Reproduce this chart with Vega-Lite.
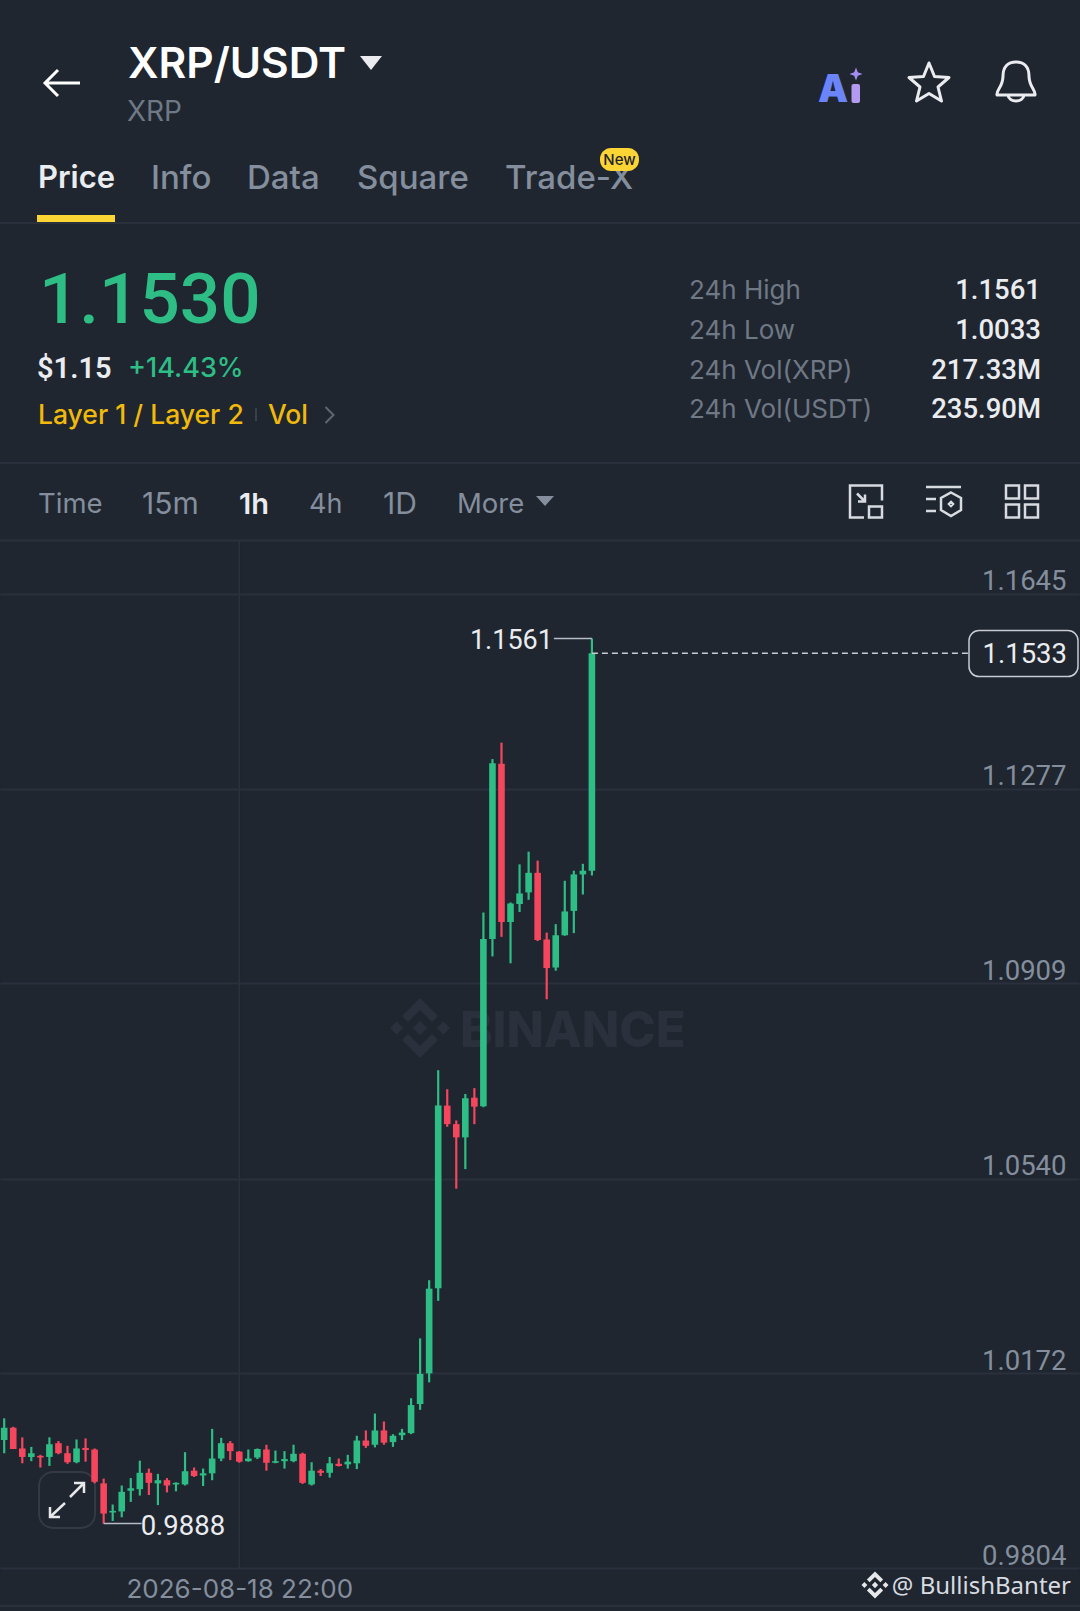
{
  "$schema": "https://vega.github.io/schema/vega-lite/v6.json",
  "width": 1080,
  "height": 1611,
  "padding": 0,
  "autosize": {"type": "fit", "contains": "padding"},
  "background": "#1F2630",
  "config": {"view": {"stroke": null}, "text": {"font": "Inter"}, "axis": {"labelFont": "Inter"}},
  "data": {"values": [{"ui": 1}]},
  "datasets": {
    "candles": [
      {"t":"2026-08-17T20:00:00Z","open":1.0046,"high":1.0087,"low":1.0021,"close":1.0069},
      {"t":"2026-08-17T21:00:00Z","open":1.0069,"high":1.0071,"low":1.0029,"close":1.0029},
      {"t":"2026-08-17T22:00:00Z","open":1.0030,"high":1.0051,"low":1.0002,"close":1.0014},
      {"t":"2026-08-17T23:00:00Z","open":1.0014,"high":1.0033,"low":1.0006,"close":1.0021},
      {"t":"2026-08-18T00:00:00Z","open":1.0016,"high":1.0018,"low":0.9994,"close":1.0013},
      {"t":"2026-08-18T01:00:00Z","open":1.0014,"high":1.0051,"low":0.9997,"close":1.0038},
      {"t":"2026-08-18T02:00:00Z","open":1.0040,"high":1.0044,"low":1.0019,"close":1.0021},
      {"t":"2026-08-18T03:00:00Z","open":1.0021,"high":1.0035,"low":1.0001,"close":1.0004},
      {"t":"2026-08-18T04:00:00Z","open":1.0004,"high":1.0047,"low":1.0002,"close":1.0030},
      {"t":"2026-08-18T05:00:00Z","open":1.0031,"high":1.0049,"low":1.0005,"close":1.0027},
      {"t":"2026-08-18T06:00:00Z","open":1.0028,"high":1.0030,"low":0.9964,"close":0.9967},
      {"t":"2026-08-18T07:00:00Z","open":0.9964,"high":0.9973,"low":0.9888,"close":0.9907},
      {"t":"2026-08-18T08:00:00Z","open":0.9909,"high":0.9924,"low":0.9893,"close":0.9912},
      {"t":"2026-08-18T09:00:00Z","open":0.9911,"high":0.9960,"low":0.9900,"close":0.9948},
      {"t":"2026-08-18T10:00:00Z","open":0.9950,"high":0.9974,"low":0.9929,"close":0.9955},
      {"t":"2026-08-18T11:00:00Z","open":0.9953,"high":1.0007,"low":0.9941,"close":0.9984},
      {"t":"2026-08-18T12:00:00Z","open":0.9984,"high":0.9992,"low":0.9942,"close":0.9965},
      {"t":"2026-08-18T13:00:00Z","open":0.9964,"high":0.9982,"low":0.9923,"close":0.9970},
      {"t":"2026-08-18T14:00:00Z","open":0.9970,"high":0.9974,"low":0.9947,"close":0.9960},
      {"t":"2026-08-18T15:00:00Z","open":0.9962,"high":0.9966,"low":0.9949,"close":0.9965},
      {"t":"2026-08-18T16:00:00Z","open":0.9962,"high":1.0023,"low":0.9960,"close":0.9987},
      {"t":"2026-08-18T17:00:00Z","open":0.9988,"high":0.9994,"low":0.9976,"close":0.9978},
      {"t":"2026-08-18T18:00:00Z","open":0.9979,"high":0.9992,"low":0.9959,"close":0.9983},
      {"t":"2026-08-18T19:00:00Z","open":0.9983,"high":1.0067,"low":0.9970,"close":1.0011},
      {"t":"2026-08-18T20:00:00Z","open":1.0011,"high":1.0050,"low":1.0006,"close":1.0040},
      {"t":"2026-08-18T21:00:00Z","open":1.0040,"high":1.0044,"low":1.0008,"close":1.0025},
      {"t":"2026-08-18T22:00:00Z","open":1.0024,"high":1.0025,"low":1.0003,"close":1.0005},
      {"t":"2026-08-18T23:00:00Z","open":1.0006,"high":1.0028,"low":1.0005,"close":1.0011},
      {"t":"2026-08-19T00:00:00Z","open":1.0013,"high":1.0030,"low":1.0010,"close":1.0029},
      {"t":"2026-08-19T01:00:00Z","open":1.0028,"high":1.0037,"low":0.9988,"close":1.0003},
      {"t":"2026-08-19T02:00:00Z","open":1.0003,"high":1.0026,"low":1.0002,"close":1.0006},
      {"t":"2026-08-19T03:00:00Z","open":1.0006,"high":1.0025,"low":0.9992,"close":1.0010},
      {"t":"2026-08-19T04:00:00Z","open":1.0006,"high":1.0037,"low":1.0004,"close":1.0020},
      {"t":"2026-08-19T05:00:00Z","open":1.0020,"high":1.0022,"low":0.9963,"close":0.9965},
      {"t":"2026-08-19T06:00:00Z","open":0.9962,"high":1.0004,"low":0.9960,"close":0.9988},
      {"t":"2026-08-19T07:00:00Z","open":0.9988,"high":0.9991,"low":0.9978,"close":0.9984},
      {"t":"2026-08-19T08:00:00Z","open":0.9984,"high":1.0014,"low":0.9975,"close":1.0002},
      {"t":"2026-08-19T09:00:00Z","open":1.0001,"high":1.0011,"low":0.9996,"close":0.9997},
      {"t":"2026-08-19T10:00:00Z","open":1.0000,"high":1.0018,"low":0.9992,"close":1.0005},
      {"t":"2026-08-19T11:00:00Z","open":1.0002,"high":1.0054,"low":0.9991,"close":1.0045},
      {"t":"2026-08-19T12:00:00Z","open":1.0045,"high":1.0064,"low":1.0031,"close":1.0035},
      {"t":"2026-08-19T13:00:00Z","open":1.0037,"high":1.0096,"low":1.0032,"close":1.0064},
      {"t":"2026-08-19T14:00:00Z","open":1.0064,"high":1.0081,"low":1.0037,"close":1.0041},
      {"t":"2026-08-19T15:00:00Z","open":1.0042,"high":1.0057,"low":1.0033,"close":1.0054},
      {"t":"2026-08-19T16:00:00Z","open":1.0055,"high":1.0067,"low":1.0046,"close":1.0060},
      {"t":"2026-08-19T17:00:00Z","open":1.0059,"high":1.0125,"low":1.0057,"close":1.0112},
      {"t":"2026-08-19T18:00:00Z","open":1.0114,"high":1.0238,"low":1.0103,"close":1.0171},
      {"t":"2026-08-19T19:00:00Z","open":1.0172,"high":1.0348,"low":1.0155,"close":1.0332},
      {"t":"2026-08-19T20:00:00Z","open":1.0333,"high":1.0745,"low":1.0309,"close":1.0678},
      {"t":"2026-08-19T21:00:00Z","open":1.0678,"high":1.0709,"low":1.0638,"close":1.0643},
      {"t":"2026-08-19T22:00:00Z","open":1.0643,"high":1.0650,"low":1.0521,"close":1.0618},
      {"t":"2026-08-19T23:00:00Z","open":1.0618,"high":1.0700,"low":1.0558,"close":1.0692},
      {"t":"2026-08-20T00:00:00Z","open":1.0693,"high":1.0711,"low":1.0643,"close":1.0676},
      {"t":"2026-08-20T01:00:00Z","open":1.0677,"high":1.1043,"low":1.0675,"close":1.0993},
      {"t":"2026-08-20T02:00:00Z","open":1.0993,"high":1.1333,"low":1.0960,"close":1.1325},
      {"t":"2026-08-20T03:00:00Z","open":1.1324,"high":1.1364,"low":1.0997,"close":1.1025},
      {"t":"2026-08-20T04:00:00Z","open":1.1025,"high":1.1062,"low":1.0947,"close":1.1060},
      {"t":"2026-08-20T05:00:00Z","open":1.1059,"high":1.1134,"low":1.1044,"close":1.1079},
      {"t":"2026-08-20T06:00:00Z","open":1.1081,"high":1.1158,"low":1.1067,"close":1.1118},
      {"t":"2026-08-20T07:00:00Z","open":1.1118,"high":1.1141,"low":1.0989,"close":1.0991},
      {"t":"2026-08-20T08:00:00Z","open":1.0992,"high":1.1005,"low":1.0879,"close":1.0938},
      {"t":"2026-08-20T09:00:00Z","open":1.0939,"high":1.1021,"low":1.0933,"close":1.1000},
      {"t":"2026-08-20T10:00:00Z","open":1.1000,"high":1.1103,"low":1.0999,"close":1.1045},
      {"t":"2026-08-20T11:00:00Z","open":1.1046,"high":1.1122,"low":1.1004,"close":1.1115},
      {"t":"2026-08-20T12:00:00Z","open":1.1115,"high":1.1135,"low":1.1077,"close":1.1122},
      {"t":"2026-08-20T13:00:00Z","open":1.1122,"high":1.1561,"low":1.1113,"close":1.1533}
    ],
    "extremes": [
      {"t":"2026-08-20T13:00:00Z","t2":"2026-08-20T08:48:00Z","price":1.1561},
      {"t":"2026-08-18T07:00:00Z","t2":"2026-08-18T11:12:00Z","price":0.9888}
    ]
  },
  "layer": [
    {"mark": {"type": "rect", "x": 0, "x2": 1080, "y": 222, "y2": 224, "fill": "#2B313C"}},
    {"mark": {"type": "rect", "x": 0, "x2": 1080, "y": 462, "y2": 464, "fill": "#2B313C"}},
    {"mark": {"type": "rect", "x": 0, "x2": 1080, "y": 539.5, "y2": 541.5, "fill": "#2B313C"}},
    {"mark": {"type": "rect", "x": 0, "x2": 1080, "y": 1605, "y2": 1607, "fill": "#2B313C"}},

    {"mark": {"type": "text", "text": "BINANCE", "x": 460, "y": 1032, "align": "left", "baseline": "middle", "fontSize": 49, "fontWeight": 800, "color": "#2B313C"}},
    {"mark": {"type": "point", "x": 420, "y": 1028, "size": 4, "filled": true, "opacity": 1, "color": "#2B313C",
      "shape": "M0 -7 L7 0 L0 7 L-7 0 Z M-30 0 L-23.5 -6.5 L-17 0 L-23.5 6.5 Z M30 0 L23.5 -6.5 L17 0 L23.5 6.5 Z M0 -30 L18 -12 L12 -6 L0 -18 L-12 -6 L-18 -12 Z M0 30 L18 12 L12 6 L0 18 L-12 6 L-18 12 Z"}},
    {"mark": {"type": "rect", "x": 39, "x2": 95, "y": 1472, "y2": 1528, "cornerRadius": 14, "fill": "#1F2630", "stroke": "#333945", "strokeWidth": 2}},
    {"mark": {"type": "point", "x": 67, "y": 1500, "size": 4, "opacity": 1, "filled": false, "color": "#E6E8EA", "strokeWidth": 2.5,
      "shape": "M-17 17 L-2 3 M-17 7 L-17 17 L-7 17 M3 -3 L17 -17 M7 -17 L17 -17 L17 -7"}},

    {
      "encoding": {
        "x": {
          "field": "t",
          "type": "temporal",
          "scale": {"type": "utc", "padding": 0, "domain": ["2026-08-17T19:32:10Z", "2026-08-22T18:52:20Z"]},
          "axis": {
            "title": null,
            "orient": "bottom",
            "values": [{"year": 2026, "month": 8, "date": 18, "hours": 22, "utc": true}],
            "format": "%Y-%m-%d %H:%M",
            "grid": false, "domain": false, "ticks": false,
            "labelColor": "#848E9C", "labelFontSize": 26, "labelPadding": -35, "labelBaseline": "top", "labelFlush": false, "labelLimit": 400
          }
        },
        "y": {
          "type": "quantitative",
          "scale": {"domain": [0.97228, 1.27677], "nice": false, "zero": false},
          "axis": {
            "title": null,
            "orient": "right",
            "values": [1.1645, 1.1277, 1.0909, 1.0540, 1.0172, 0.9804],
            "format": ".4f",
            "grid": true, "gridColor": "#2B313C", "gridWidth": 2,
            "domain": false, "ticks": false,
            "labelFont": "Roboto", "labelColor": "#848E9C", "labelFontSize": 27.5, "labelAlign": "right", "labelBaseline": "middle",
            "labelPadding": -13, "labelOffset": -12, "labelFlush": false, "labelOverlap": false
          }
        }
      },
      "layer": [
        {"data": {"values": [{"t": "2026-08-18T22:00:00Z", "top": 1.1746, "bottom": 0.9804}]},
         "mark": {"type": "rule", "color": "#2B313C", "strokeWidth": 1.5},
         "encoding": {"y": {"field": "top"}, "y2": {"field": "bottom"}}},
        {"data": {"name": "candles"},
         "mark": {"type": "rule", "strokeWidth": 2.2},
         "encoding": {
           "y": {"field": "low"}, "y2": {"field": "high"},
           "color": {"condition": {"test": "datum.close >= datum.open", "value": "#2EBD85"}, "value": "#F6465D"}
         }},
        {"data": {"name": "candles"},
         "mark": {"type": "bar", "size": 6.6},
         "encoding": {
           "y": {"field": "open"}, "y2": {"field": "close"},
           "color": {"condition": {"test": "datum.close >= datum.open", "value": "#2EBD85"}, "value": "#F6465D"}
         }},
        {"data": {"values": [{"t": "2026-08-20T13:00:00Z", "t2": "2026-08-22T18:52:20Z", "price": 1.1533}]},
         "mark": {"type": "rule", "color": "#C8CCD2", "strokeWidth": 1.5, "strokeDash": [6, 4]},
         "encoding": {"x2": {"field": "t2"}, "y": {"field": "price"}}},
        {"data": {"name": "extremes"},
         "mark": {"type": "rule", "color": "#B7BDC6", "strokeWidth": 1.5},
         "encoding": {"x2": {"field": "t2"}, "y": {"field": "price"}}},
        {"data": {"values": [{"t": "2026-08-20T08:48:00Z", "price": 1.1561, "label": "1.1561"}]},
         "mark": {"type": "text", "font": "Roboto", "align": "right", "baseline": "middle", "dx": -1, "dy": 3, "fontSize": 27, "color": "#EAECEF"},
         "encoding": {"y": {"field": "price"}, "text": {"field": "label"}}},
        {"data": {"values": [{"t": "2026-08-18T11:12:00Z", "price": 0.9888, "label": "0.9888"}]},
         "mark": {"type": "text", "font": "Roboto", "align": "left", "baseline": "middle", "dx": -1, "dy": 3, "fontSize": 27.5, "color": "#EAECEF"},
         "encoding": {"y": {"field": "price"}, "text": {"field": "label"}}},
        {"data": {"values": [{"top": 1.1576, "bottom": 1.1489}]},
         "mark": {"type": "rect", "x": 969, "x2": 1078, "cornerRadius": 10, "fill": "#1F2630", "stroke": "#C8CCD2", "strokeWidth": 1.5},
         "encoding": {"x": null, "y": {"field": "top"}, "y2": {"field": "bottom"}}},
        {"data": {"values": [{"price": 1.1533, "label": "1.1533"}]},
         "mark": {"type": "text", "font": "Roboto", "x": 1067, "dy": 2, "align": "right", "baseline": "middle", "fontSize": 27.5, "color": "#EAECEF"},
         "encoding": {"x": null, "y": {"field": "price"}, "text": {"field": "label"}}}
      ]
    },

    {"mark": {"type": "point", "x": 62, "y": 83, "size": 4, "opacity": 1, "filled": false, "color": "#FFFFFF", "strokeWidth": 3, "shape": "M18 0 H-17 M-4 -13 L-17 0 L-4 13"}},
    {"mark": {"type": "text", "text": "XRP/USDT", "x": 128, "y": 65, "align": "left", "baseline": "middle", "fontSize": 42.5, "fontWeight": 600, "color": "#FFFFFF"}},
    {"mark": {"type": "point", "x": 371, "y": 62, "size": 4, "opacity": 1, "filled": true, "color": "#EAECEF", "shape": "M-11 -6 H11 L0 8 Z"}},
    {"mark": {"type": "text", "text": "XRP", "x": 127, "y": 113, "align": "left", "baseline": "middle", "fontSize": 28, "color": "#6F7885"}},
    {"mark": {"type": "text", "text": "A", "x": 833, "y": 91, "align": "center", "baseline": "middle", "fontSize": 38, "fontWeight": 900, "color": "#6B84FA"}},
    {"mark": {"type": "rect", "x": 851.5, "x2": 860, "y": 84, "y2": 103, "cornerRadius": 2, "fill": "#B39AF0"}},
    {"mark": {"type": "point", "x": 856, "y": 74, "size": 4, "opacity": 1, "filled": true, "color": "#A48CF2", "shape": "M0 -6.5 L1.8 -1.8 L6.5 0 L1.8 1.8 L0 6.5 L-1.8 1.8 L-6.5 0 L-1.8 -1.8 Z"}},
    {"mark": {"type": "point", "x": 929, "y": 83, "size": 4, "opacity": 1, "filled": false, "color": "#EAECEF", "strokeWidth": 3, "strokeJoin": "round",
      "shape": "M0 -20 L5.5 -6.5 L20 -5.5 L9 4 L12.5 18 L0 10.5 L-12.5 18 L-9 4 L-20 -5.5 L-5.5 -6.5 Z"}},
    {"mark": {"type": "point", "x": 1016, "y": 82, "size": 4, "opacity": 1, "filled": false, "color": "#EAECEF", "strokeWidth": 3, "strokeJoin": "round",
      "shape": "M-19 13 C-20 8 -13 5 -13 -6 C-13 -15 -8 -20 0 -20 C8 -20 13 -15 13 -6 C13 5 20 8 19 13 Z M-8 13 C-7 21 7 21 8 13"}},

    {"mark": {"type": "text", "text": "Price", "x": 38, "y": 179, "align": "left", "baseline": "middle", "fontSize": 31, "fontWeight": 600, "color": "#EAECEF"}},
    {"mark": {"type": "text", "text": "Info", "x": 151, "y": 179, "align": "left", "baseline": "middle", "fontSize": 33, "fontWeight": 500, "color": "#848E9C"}},
    {"mark": {"type": "text", "text": "Data", "x": 247, "y": 179, "align": "left", "baseline": "middle", "fontSize": 33, "fontWeight": 500, "color": "#848E9C"}},
    {"mark": {"type": "text", "text": "Square", "x": 357, "y": 179, "align": "left", "baseline": "middle", "fontSize": 33, "fontWeight": 500, "color": "#848E9C"}},
    {"mark": {"type": "text", "text": "Trade-X", "x": 505, "y": 179, "align": "left", "baseline": "middle", "fontSize": 33, "fontWeight": 500, "color": "#848E9C"}},
    {"mark": {"type": "rect", "x": 600, "x2": 639, "y": 148, "y2": 171, "cornerRadius": 11, "fill": "#FCD535"}},
    {"mark": {"type": "text", "text": "New", "x": 619.5, "y": 160, "align": "center", "baseline": "middle", "fontSize": 15, "fontWeight": 500, "color": "#1E2329"}},
    {"mark": {"type": "rect", "x": 37, "x2": 115, "y": 215, "y2": 222, "fill": "#FCD535"}},

    {"mark": {"type": "text", "text": "1.1530", "x": 39, "y": 302, "align": "left", "baseline": "middle", "fontSize": 71, "fontWeight": 500, "font": "Roboto", "color": "#2EBD85"}},
    {"mark": {"type": "text", "text": "$1.15", "x": 37, "y": 369, "align": "left", "baseline": "middle", "fontSize": 29, "fontWeight": 600, "font": "Roboto", "color": "#EAECEF"}},
    {"mark": {"type": "text", "text": "+14.43%", "x": 128, "y": 369, "align": "left", "baseline": "middle", "fontSize": 27, "fontWeight": 500, "color": "#2EBD85"}},
    {"mark": {"type": "text", "text": "Layer 1 / Layer 2", "x": 38, "y": 416, "align": "left", "baseline": "middle", "fontSize": 26.5, "fontWeight": 500, "color": "#F0B90B"}},
    {"mark": {"type": "rect", "x": 255, "x2": 257, "y": 408, "y2": 421, "fill": "#3A4049"}},
    {"mark": {"type": "text", "text": "Vol", "x": 268, "y": 416, "align": "left", "baseline": "middle", "fontSize": 26.5, "fontWeight": 500, "color": "#F0B90B"}},
    {"mark": {"type": "point", "x": 329.5, "y": 415, "size": 4, "opacity": 1, "filled": false, "color": "#5E6673", "strokeWidth": 2, "shape": "M-4 -8 L4 0 L-4 8"}},

    {"mark": {"type": "text", "text": "24h High", "x": 689, "y": 291, "align": "left", "baseline": "middle", "fontSize": 26, "color": "#6F7885"}},
    {"mark": {"type": "text", "text": "24h Low", "x": 689, "y": 331, "align": "left", "baseline": "middle", "fontSize": 26, "color": "#6F7885"}},
    {"mark": {"type": "text", "text": "24h Vol(XRP)", "x": 689, "y": 371, "align": "left", "baseline": "middle", "fontSize": 26, "color": "#6F7885"}},
    {"mark": {"type": "text", "text": "24h Vol(USDT)", "x": 689, "y": 410, "align": "left", "baseline": "middle", "fontSize": 26, "color": "#6F7885"}},
    {"mark": {"type": "text", "text": "1.1561", "x": 1041, "y": 291, "align": "right", "baseline": "middle", "fontSize": 27.5, "fontWeight": 500, "font": "Roboto", "color": "#EAECEF"}},
    {"mark": {"type": "text", "text": "1.0033", "x": 1041, "y": 331, "align": "right", "baseline": "middle", "fontSize": 27.5, "fontWeight": 500, "font": "Roboto", "color": "#EAECEF"}},
    {"mark": {"type": "text", "text": "217.33M", "x": 1041, "y": 371, "align": "right", "baseline": "middle", "fontSize": 27.5, "fontWeight": 500, "font": "Roboto", "color": "#EAECEF"}},
    {"mark": {"type": "text", "text": "235.90M", "x": 1041, "y": 410, "align": "right", "baseline": "middle", "fontSize": 27.5, "fontWeight": 500, "font": "Roboto", "color": "#EAECEF"}},

    {"mark": {"type": "text", "text": "Time", "x": 38, "y": 505, "align": "left", "baseline": "middle", "fontSize": 27.5, "color": "#848E9C"}},
    {"mark": {"type": "text", "text": "15m", "x": 142, "y": 505, "align": "left", "baseline": "middle", "fontSize": 30, "color": "#848E9C"}},
    {"mark": {"type": "text", "text": "1h", "x": 239, "y": 505, "align": "left", "baseline": "middle", "fontSize": 29, "fontWeight": 600, "color": "#EAECEF"}},
    {"mark": {"type": "text", "text": "4h", "x": 309, "y": 505, "align": "left", "baseline": "middle", "fontSize": 27, "color": "#848E9C"}},
    {"mark": {"type": "text", "text": "1D", "x": 383, "y": 505, "align": "left", "baseline": "middle", "fontSize": 30, "color": "#848E9C"}},
    {"mark": {"type": "text", "text": "More", "x": 457, "y": 505, "align": "left", "baseline": "middle", "fontSize": 27.5, "color": "#848E9C"}},
    {"mark": {"type": "point", "x": 545, "y": 501, "size": 4, "opacity": 1, "filled": true, "color": "#848E9C", "shape": "M-9 -5 H9 L0 5 Z"}},
    {"mark": {"type": "point", "x": 866, "y": 501.5, "size": 4, "opacity": 1, "filled": false, "color": "#D8DBE0", "strokeWidth": 2.5,
      "shape": "M16 -1 L16 -16 L-16 -16 L-16 16 L-2 16 M3 5 H16 V16 H3 Z M-9 -8 L-1 0 M-1 -7 L-1 0 L-8 0"}},
    {"mark": {"type": "point", "x": 944, "y": 502, "size": 4, "opacity": 1, "filled": false, "color": "#D8DBE0", "strokeWidth": 2.5,
      "shape": "M-18 -15 H17 M-18 -3 H-8 M-18 9 H-8 M7 -9.5 L17 -4 L17 8 L7 14 L-3 8 L-3 -4 Z M7 0 L9 2 L7 4 L5 2 Z"}},
    {"mark": {"type": "point", "x": 1022, "y": 501.5, "size": 4, "opacity": 1, "filled": false, "color": "#D8DBE0", "strokeWidth": 2.5,
      "shape": "M-16 -16 H-3 V-3 H-16 Z M3 -16 H16 V-3 H3 Z M-16 3 H-3 V16 H-16 Z M3 3 H16 V16 H3 Z"}},

    {"mark": {"type": "point", "x": 875, "y": 1585, "size": 0.81, "opacity": 1, "filled": true, "color": "#E6E8EA",
      "shape": "M0 -7 L7 0 L0 7 L-7 0 Z M-30 0 L-23.5 -6.5 L-17 0 L-23.5 6.5 Z M30 0 L23.5 -6.5 L17 0 L23.5 6.5 Z M0 -30 L18 -12 L12 -6 L0 -18 L-12 -6 L-18 -12 Z M0 30 L18 12 L12 6 L0 18 L-12 6 L-18 12 Z"}},
    {"mark": {"type": "text", "text": "@ BullishBanter", "x": 1071, "y": 1587, "align": "right", "baseline": "middle", "fontSize": 24, "font": "Noto Sans", "color": "#D8DBE0"}}
  ]
}
